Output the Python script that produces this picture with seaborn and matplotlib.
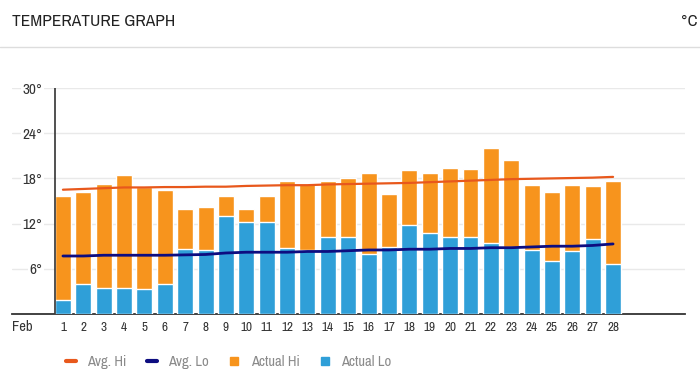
import matplotlib
matplotlib.use("Agg")
import matplotlib.pyplot as plt
import seaborn as sns
import pandas as pd
from matplotlib.lines import Line2D
from matplotlib import font_manager as fm

# Data (Feb, °C)
days = list(range(1, 29))
actual_hi = [15.6, 16.2, 17.2, 18.5, 16.9, 16.5, 13.9, 14.2, 15.6, 14.0,
             15.7, 17.6, 17.3, 17.7, 18.0, 18.7, 15.9, 19.1, 18.7, 19.4,
             19.2, 22.1, 20.4, 17.1, 16.2, 17.1, 17.0, 17.6]
actual_lo = [1.8, 4.0, 3.5, 3.5, 3.3, 4.0, 8.6, 8.5, 13.0, 12.2,
             12.2, 8.8, 8.5, 10.2, 10.2, 7.9, 8.9, 11.8, 10.7, 10.2,
             10.2, 9.4, 8.9, 8.5, 7.1, 8.3, 10.0, 6.6]
avg_hi = [16.5, 16.6, 16.7, 16.8, 16.8, 16.85, 16.85, 16.9, 16.9, 17.0,
          17.05, 17.1, 17.1, 17.2, 17.25, 17.3, 17.35, 17.4, 17.5, 17.6,
          17.7, 17.8, 17.9, 17.95, 18.0, 18.05, 18.1, 18.2]
avg_lo = [7.7, 7.7, 7.8, 7.8, 7.8, 7.8, 7.85, 7.9, 8.1, 8.2,
          8.2, 8.2, 8.3, 8.3, 8.4, 8.5, 8.5, 8.6, 8.6, 8.7,
          8.7, 8.8, 8.8, 8.9, 9.0, 9.0, 9.1, 9.3]
y_ticks = [6, 12, 18, 24, 30]

C_HI = "#f7941d"
C_LO = "#2f9fd8"
C_AVG_HI = "#e8581c"
C_AVG_LO = "#0d0d80"

df = pd.DataFrame({"day": days, "hi": actual_hi, "lo": actual_lo,
                   "avg_hi": avg_hi, "avg_lo": avg_lo})

sns.set_theme(style="white")

# look for a condensed face, the original uses a narrow DIN-like font
fonts = fm.fontManager.ttflist
narrow = sorted({f.name for f in fonts if "Narrow" in f.name or "Condensed" in f.name})
dv_cond = any(f.name == "DejaVu Sans" and "condensed" in str(f.stretch) for f in fonts)
k = 1.0
if narrow:
    plt.rcParams["font.family"] = [narrow[0], "DejaVu Sans"]
elif dv_cond:
    plt.rcParams["font.family"] = ["DejaVu Sans"]
    plt.rcParams["font.stretch"] = "condensed"
else:
    plt.rcParams["font.family"] = ["Roboto", "DejaVu Sans"]
    k = 0.85

fig = plt.figure(figsize=(7, 3.76), dpi=100)
ax = fig.add_axes([12 / 700, 1 - 314 / 376, 673 / 700, 226 / 376])

sns.barplot(data=df, x="day", y="hi", native_scale=True, color=C_HI,
            saturation=1, width=0.78, ax=ax, zorder=2)
sns.barplot(data=df, x="day", y="lo", native_scale=True, color=C_LO,
            saturation=1, width=0.78, ax=ax, zorder=3)
sns.lineplot(data=df, x="day", y="avg_hi", color=C_AVG_HI, lw=1.6, ax=ax, zorder=4)
sns.lineplot(data=df, x="day", y="avg_lo", color=C_AVG_LO, lw=2.0, ax=ax, zorder=4)

ax.set_xlim(-1.5, 31.53)
ax.set_ylim(0, 30)
ax.set_xlabel("")
ax.set_ylabel("")

# grid
ax.set_yticks(y_ticks)
ax.set_yticklabels([f"{v}°" for v in y_ticks])
ax.yaxis.grid(True, color="#e9e9e9", lw=1, zorder=0)
ax.set_axisbelow(True)
ax.tick_params(axis="y", length=0, pad=-22, labelsize=11 * k, labelcolor="#333333")
for lab in ax.get_yticklabels():
    lab.set_bbox(dict(facecolor="white", edgecolor="none", pad=1))

ax.set_xticks(days)
ax.set_xticklabels([str(d) for d in days])
ax.tick_params(axis="x", length=0, pad=6, labelsize=9.5 * k, labelcolor="#333333")

for s in ["top", "right", "left"]:
    ax.spines[s].set_visible(False)
ax.spines["bottom"].set_color("#333333")
ax.spines["bottom"].set_linewidth(1.3)
ax.axvline(0.607, color="#333333", lw=1.2, zorder=5)

fig.text(12 / 700, 1 - 327 / 376, "Feb", fontsize=10.5 * k, color="#333333", va="center")

# header
fig.text(12 / 700, 1 - 21 / 376, "TEMPERATURE GRAPH", fontsize=12.5 * k, color="#222222",
         va="center")
fig.text(681 / 700, 1 - 21 / 376, "°C", fontsize=12 * k, color="#222222", va="center")
fig.add_artist(Line2D([0, 1], [1 - 47 / 376, 1 - 47 / 376], color="#dddddd", lw=1))

handles = [
    Line2D([], [], color=C_AVG_HI, lw=3),
    Line2D([], [], color=C_AVG_LO, lw=3),
    Line2D([], [], color=C_HI, marker="s", ls="", ms=6),
    Line2D([], [], color=C_LO, marker="s", ls="", ms=6),
]
fig.legend(handles, ["Avg. Hi", "Avg. Lo", "Actual Hi", "Actual Lo"],
           loc="center left", bbox_to_anchor=(53 / 700, 1 - 362 / 376), ncol=4,
           frameon=False, handlelength=0.7, handletextpad=0.75, columnspacing=1.4,
           fontsize=10.5 * k, labelcolor="#8a8a8a")

fig.savefig("out.png", dpi=100, facecolor="white")
